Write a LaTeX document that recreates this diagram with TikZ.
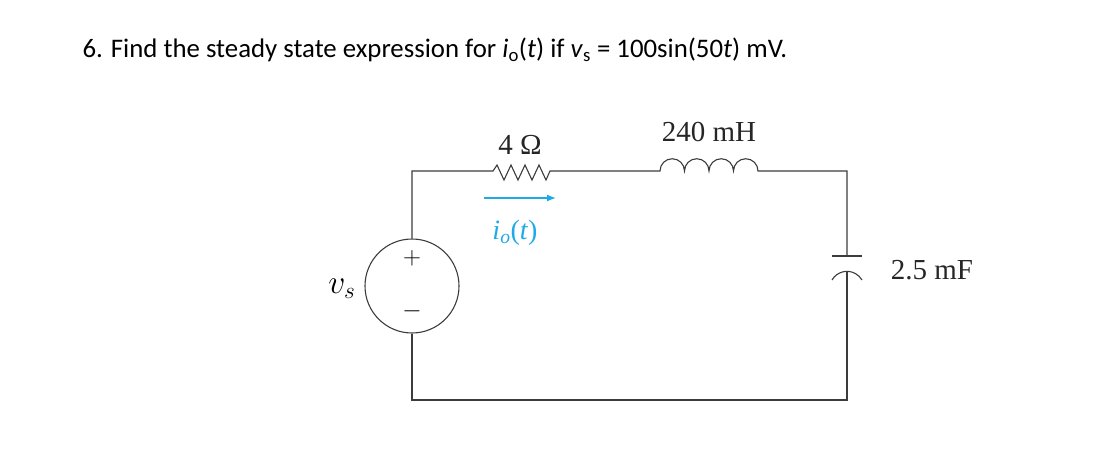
\documentclass[tikz,border=0pt]{standalone}
\usepackage{fontspec}
\setmainfont{Liberation Serif}
\newfontfamily\titlefont{Carlito}
\usetikzlibrary{arrows.meta}
\definecolor{cur}{RGB}{30,170,230}
\definecolor{wire}{RGB}{60,60,60}
\begin{document}
\begin{tikzpicture}[x=1pt,y=-1pt,
  w/.style={draw=wire,line width=1.1pt},
  lbl/.style={font=\fontsize{29}{31}\selectfont,text=black!85}]
\useasboundingbox (0,0) rectangle (1095,476);
\node[anchor=west,font=\titlefont\fontsize{26.8}{30}\selectfont] (title) at (79,50) {6. Find the steady state expression for \textit{i}\textsubscript{o}(\textit{t}) if \textit{v}\textsubscript{s} = 100sin(50\textit{t}) mV.};
\coordinate (tl) at (412,171);
\coordinate (tr) at (847,171);
\coordinate (br) at (847,400);
\coordinate (bl) at (412,400);
\coordinate (r1) at (493,171);
\coordinate (l1) at (660,171);
\coordinate (c1) at (847,256);
\coordinate (c2) at (847,271.4);
\node[circle,w,minimum size=94pt,inner sep=0] (src) at (412,286) {};
\node[font=\fontsize{26}{28}\selectfont] (plus) at (412,258) {$+$};
\node[font=\fontsize{26}{28}\selectfont] (minus) at (412,311) {$-$};
\draw[w] (src.north) -- (tl) -- (r1)
  -- ++(4,-6) -- ++(7,15) -- ++(7,-15) -- ++(7,15) -- ++(7,-15) -- ++(7,15) -- ++(7,-15) -- ++(7,15) -- ++(4,-9)
  -- (l1)
  arc[start angle=180,end angle=360,radius=12.25] arc[start angle=180,end angle=360,radius=12.25]
  arc[start angle=180,end angle=360,radius=12.25] arc[start angle=180,end angle=360,radius=12.25]
  -- (tr) -- (c1);
\draw[w] (832,256) -- (862,256);
\draw[w] (832,280) arc[start angle=210,end angle=330,radius=17.3];
\draw[w] (c2) -- (br) -- (bl) -- (src.south);
\node[lbl] (rl) at (520,145) {4 Ω};
\node[lbl] (ll) at (709,132) {240 mH};
\node[lbl] (cl) at (932,270) {2.5 mF};
\node[font=\fontsize{24}{26}\selectfont] (vs) at (342,289) {\scalebox{1.35}{$v_s$}};
\draw[cur,line width=1.3pt,-{Latex[length=9pt,width=7pt]}] (484,198) -- (556,198);
\node[text=cur,font=\fontsize{28}{30}\selectfont] (io) at (515,233) {\textit{i}\textsubscript{\textit{o}}(\textit{t})};
\end{tikzpicture}
\end{document}
